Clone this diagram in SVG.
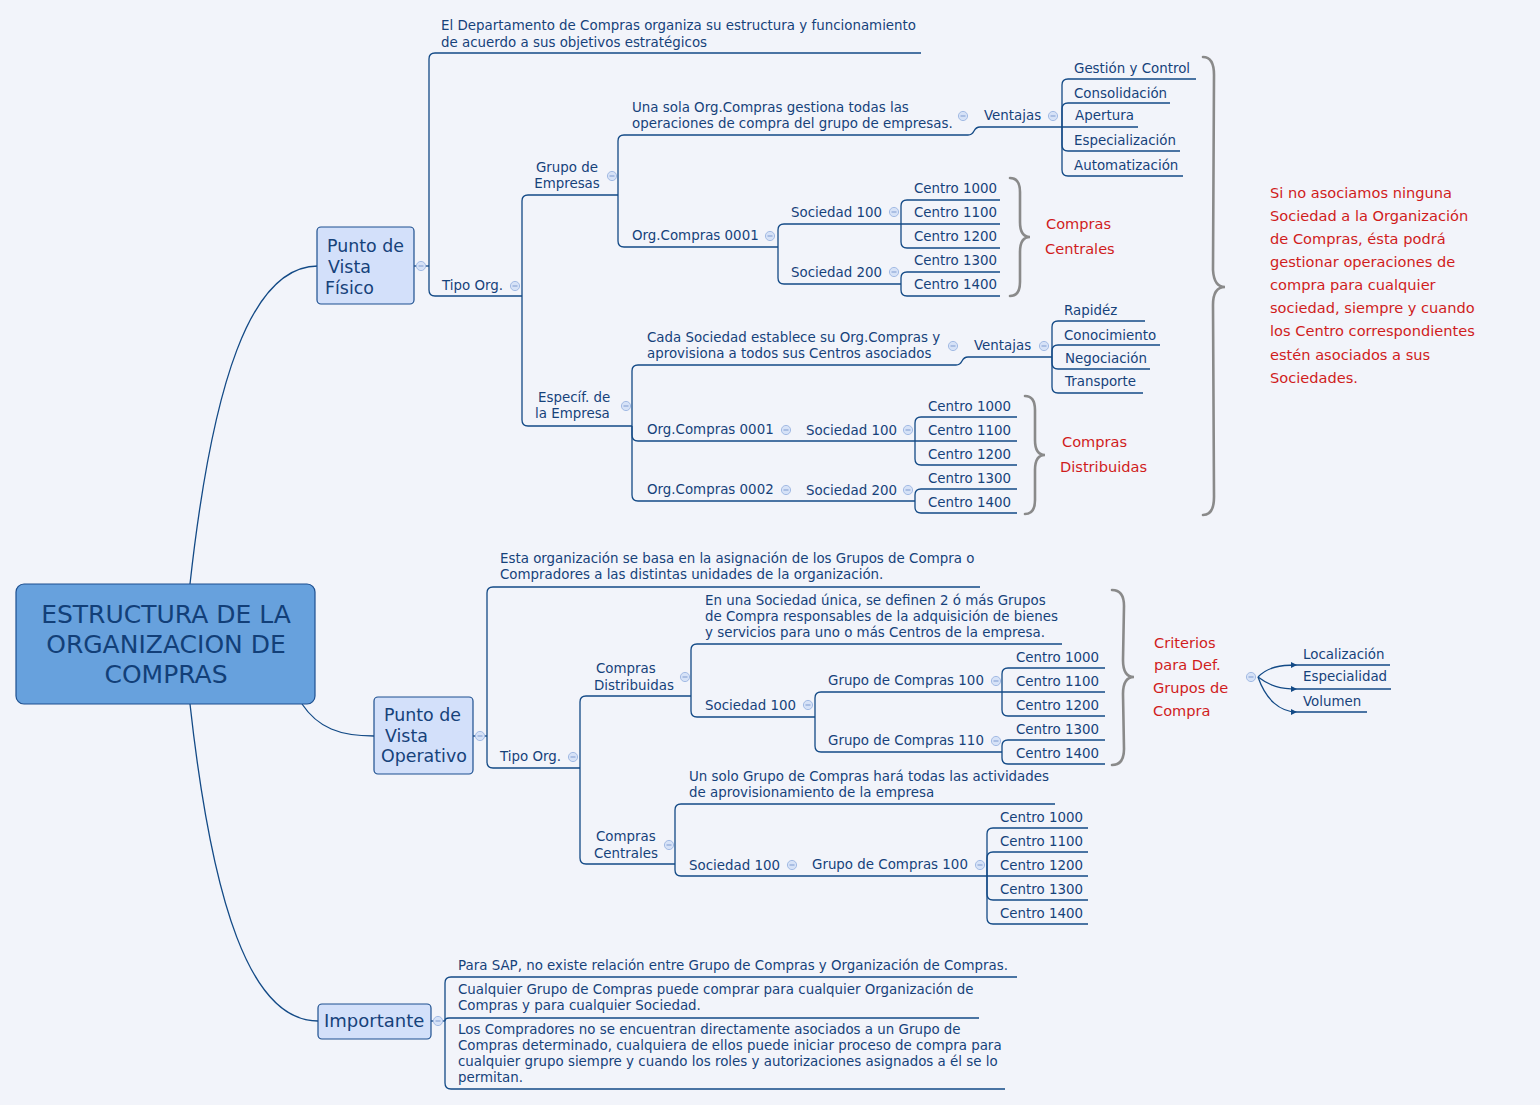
<svg xmlns="http://www.w3.org/2000/svg" width="1540" height="1105" viewBox="0 0 1540 1105">
<style>
.t{font-family:"DejaVu Sans",Verdana,sans-serif;font-size:13.4px;fill:#16427a}
.nt{font-family:"DejaVu Sans",Verdana,sans-serif;font-size:17.4px;fill:#16427a}
.tt{font-family:"DejaVu Sans",Verdana,sans-serif;font-size:25px;fill:#123f78;text-anchor:middle}
.r{font-family:"DejaVu Sans",sans-serif;font-size:14.6px;fill:#d01c1c}
.c path{fill:none;stroke:#134a86;stroke-width:1.3}
.br{fill:none;stroke:#8a8a8a;stroke-width:2.6;stroke-linecap:round}
.box{fill:#d3e0fa;stroke:#1d4f8f;stroke-width:1.2}
</style>
<defs>
<g id="tg"><circle r="4.6" fill="#d6e2f7" stroke="#a3bbe4" stroke-width="1"/><line x1="-2.5" y1="0" x2="2.5" y2="0" stroke="#7f9bd0" stroke-width="1"/></g>
<marker id="ar" viewBox="0 0 6 6" refX="6" refY="3" markerWidth="5" markerHeight="5" orient="auto"><path d="M0,0 L6,3 L0,6 z" fill="#134a86"/></marker>
</defs>
<rect width="1540" height="1105" fill="#f2f4fa"/>

<g id="connectors" class="c">
<path d="M190,584 C212,385 250,266 318,266"/>
<path d="M302,704 C318,728 340,736 374,736"/>
<path d="M190,704 C212,903 250,1021 318,1021"/>
<!-- Fisico -->
<path d="M414,266 H429"/>
<path d="M429,266 V59 Q429,53 435,53 H921"/>
<path d="M429,266 V290 Q429,296 435,296 H522"/>
<path d="M522,296 V201 Q522,195 528,195 H618"/>
<path d="M522,296 V420 Q522,426 528,426 H632"/>
<path d="M618,195 V141 Q618,135 624,135 H968 Q972,135 974,131 Q976,127 980,127 H1062"/>
<path d="M618,195 V241 Q618,247 624,247 H778"/>
<path d="M1062,127 V85 Q1062,79 1068,79 H1196"/>
<path d="M1062,127 V109 Q1062,103 1068,103 H1170"/>
<path d="M1062,127 H1138"/>
<path d="M1062,127 V145 Q1062,151 1068,151 H1180"/>
<path d="M1062,127 V170 Q1062,176 1068,176 H1183"/>
<path d="M778,247 V230 Q778,224 784,224 H901"/>
<path d="M778,247 V278 Q778,284 784,284 H901"/>
<path d="M901,224 V206 Q901,200 907,200 H1000"/>
<path d="M901,224 H1000"/>
<path d="M901,224 V242 Q901,248 907,248 H1000"/>
<path d="M901,284 V278 Q901,272 907,272 H1000"/>
<path d="M901,284 V290 Q901,296 907,296 H1000"/>
<path d="M632,426 V371 Q632,365 638,365 H956 Q960,365 962,361 Q964,357 968,357 H1052"/>
<path d="M632,426 V435 Q632,441 638,441 H915"/>
<path d="M632,426 V495 Q632,501 638,501 H915"/>
<path d="M1052,357 V327 Q1052,321 1058,321 H1145"/>
<path d="M1052,357 V351 Q1052,345 1058,345 H1160"/>
<path d="M1052,357 V363 Q1052,369 1058,369 H1150"/>
<path d="M1052,357 V387 Q1052,393 1058,393 H1143"/>
<path d="M915,441 V423 Q915,417 921,417 H1017"/>
<path d="M915,441 H1017"/>
<path d="M915,441 V459 Q915,465 921,465 H1017"/>
<path d="M915,501 V495 Q915,489 921,489 H1017"/>
<path d="M915,501 V507 Q915,513 921,513 H1017"/>
<!-- Operativo -->
<path d="M473,736 H487"/>
<path d="M487,736 V593 Q487,587 493,587 H980"/>
<path d="M487,736 V762 Q487,768 493,768 H580"/>
<path d="M580,768 V702 Q580,696 586,696 H691"/>
<path d="M580,768 V858 Q580,864 586,864 H675"/>
<path d="M691,696 V650 Q691,644 697,644 H1062"/>
<path d="M691,696 V711 Q691,717 697,717 H815"/>
<path d="M815,717 V698 Q815,692 821,692 H1002"/>
<path d="M815,717 V746 Q815,752 821,752 H1002"/>
<path d="M1002,692 V674 Q1002,668 1008,668 H1105"/>
<path d="M1002,692 H1105"/>
<path d="M1002,692 V710 Q1002,716 1008,716 H1105"/>
<path d="M1002,752 V746 Q1002,740 1008,740 H1105"/>
<path d="M1002,752 V758 Q1002,764 1008,764 H1105"/>
<path d="M675,864 V810 Q675,804 681,804 H1055"/>
<path d="M675,864 V870 Q675,876 681,876 H987"/>
<path d="M987,876 V834 Q987,828 993,828 H1088"/>
<path d="M987,876 V858 Q987,852 993,852 H1088"/>
<path d="M987,876 H1088"/>
<path d="M987,876 V894 Q987,900 993,900 H1088"/>
<path d="M987,876 V918 Q987,924 993,924 H1088"/>
<path d="M1258,677 C1268,667 1280,665 1297,665" marker-end="url(#ar)"/>
<path d="M1258,677 C1270,686 1280,689 1297,689" marker-end="url(#ar)"/>
<path d="M1258,677 C1266,700 1280,712 1297,712" marker-end="url(#ar)"/>
<path d="M1297,665 H1390"/>
<path d="M1297,689 H1391"/>
<path d="M1297,712 H1367"/>
<!-- Importante -->
<path d="M431,1021 H445"/>
<path d="M445,1021 V983 Q445,977 451,977 H1017"/>
<path d="M445,1021 Q445,1018 449,1018 H979"/>
<path d="M445,1021 V1083 Q445,1089 451,1089 H1005"/>
</g>

<g id="braces">
<path class="br" d="M1010,178 Q1020,178 1020,192 L1020,222 Q1020,237 1030,237 Q1020,237 1020,252 L1020,282 Q1020,296 1010,296"/>
<path class="br" d="M1025,396 Q1035,396 1035,410 L1035,440 Q1035,455 1045,455 Q1035,455 1035,470 L1035,500 Q1035,514 1025,514"/>
<path class="br" d="M1203,57 Q1214,57 1214,75 L1213,270 Q1214,287 1225,287 Q1213,287 1213,305 L1214,497 Q1214,515 1203,515"/>
<path class="br" d="M1112,590 Q1124,590 1124,606 L1123,660 Q1123,677 1134,677 Q1123,677 1123,694 L1124,749 Q1124,765 1112,765"/>
</g>

<g id="central">
<rect x="16" y="584" width="299" height="120" rx="8" fill="#67a1dd" stroke="#1d4f8f" stroke-width="1.2"/>
<text class="tt" x="166" y="623">ESTRUCTURA DE LA</text>
<text class="tt" x="166" y="653">ORGANIZACION DE</text>
<text class="tt" x="166" y="683">COMPRAS</text>
</g>

<g id="fisico">
<rect class="box" x="317" y="227" width="97" height="77" rx="4"/>
<text class="nt" x="327" y="252">Punto de</text>
<text class="nt" x="328" y="273">Vista</text>
<text class="nt" x="325" y="294">Físico</text>
</g>
<g id="operativo">
<rect class="box" x="374" y="697" width="99" height="77" rx="4"/>
<text class="nt" x="384" y="721">Punto de</text>
<text class="nt" x="385" y="742">Vista</text>
<text class="nt" x="381" y="762">Operativo</text>
</g>
<g id="importante">
<rect class="box" x="318" y="1004" width="113" height="35" rx="4"/>
<text class="nt" x="324" y="1027" style="font-size:18px">Importante</text>
</g>

<g id="f-depto"><text class="t" x="441" y="30">El Departamento de Compras organiza su estructura y funcionamiento</text><text class="t" x="441" y="47">de acuerdo a sus objetivos estratégicos</text></g>
<g id="f-tipo"><text class="t" x="442" y="290">Tipo Org.</text></g>
<g id="f-grupo"><text class="t" x="567" y="172" text-anchor="middle">Grupo de</text><text class="t" x="567" y="188" text-anchor="middle">Empresas</text></g>
<g id="f-espec"><text class="t" x="538" y="402">Específ. de</text><text class="t" x="535" y="418">la Empresa</text></g>
<g id="f-unasola"><text class="t" x="632" y="112">Una sola Org.Compras gestiona todas las</text><text class="t" x="632" y="128">operaciones de compra del grupo de empresas.</text></g>
<g id="f-vent1"><text class="t" x="984" y="120">Ventajas</text></g>
<g id="f-v1"><text class="t" x="1074" y="73">Gestión y Control</text></g>
<g id="f-v2"><text class="t" x="1074" y="98">Consolidación</text></g>
<g id="f-v3"><text class="t" x="1075" y="120">Apertura</text></g>
<g id="f-v4"><text class="t" x="1074" y="145">Especialización</text></g>
<g id="f-v5"><text class="t" x="1074" y="170">Automatización</text></g>
<g id="f-oc1"><text class="t" x="632" y="240">Org.Compras 0001</text></g>
<g id="f-s100"><text class="t" x="791" y="217">Sociedad 100</text></g>
<g id="f-s200"><text class="t" x="791" y="277">Sociedad 200</text></g>
<g id="f-c1"><text class="t" x="914" y="193">Centro 1000</text></g>
<g id="f-c2"><text class="t" x="914" y="217">Centro 1100</text></g>
<g id="f-c3"><text class="t" x="914" y="241">Centro 1200</text></g>
<g id="f-c4"><text class="t" x="914" y="265">Centro 1300</text></g>
<g id="f-c5"><text class="t" x="914" y="289">Centro 1400</text></g>
<g id="f-cada"><text class="t" x="647" y="342">Cada Sociedad establece su Org.Compras y</text><text class="t" x="647" y="358">aprovisiona a todos sus Centros asociados</text></g>
<g id="f-vent2"><text class="t" x="974" y="350">Ventajas</text></g>
<g id="f-w1"><text class="t" x="1064" y="315">Rapidéz</text></g>
<g id="f-w2"><text class="t" x="1064" y="340">Conocimiento</text></g>
<g id="f-w3"><text class="t" x="1065" y="363">Negociación</text></g>
<g id="f-w4"><text class="t" x="1065" y="386">Transporte</text></g>
<g id="f-oc1b"><text class="t" x="647" y="434">Org.Compras 0001</text></g>
<g id="f-oc2b"><text class="t" x="647" y="494">Org.Compras 0002</text></g>
<g id="f-s100b"><text class="t" x="806" y="435">Sociedad 100</text></g>
<g id="f-s200b"><text class="t" x="806" y="495">Sociedad 200</text></g>
<g id="f-d1"><text class="t" x="928" y="411">Centro 1000</text></g>
<g id="f-d2"><text class="t" x="928" y="435">Centro 1100</text></g>
<g id="f-d3"><text class="t" x="928" y="459">Centro 1200</text></g>
<g id="f-d4"><text class="t" x="928" y="483">Centro 1300</text></g>
<g id="f-d5"><text class="t" x="928" y="507">Centro 1400</text></g>

<g id="o-esta"><text class="t" x="500" y="563">Esta organización se basa en la asignación de los Grupos de Compra o</text><text class="t" x="500" y="579">Compradores a las distintas unidades de la organización.</text></g>
<g id="o-tipo"><text class="t" x="500" y="761">Tipo Org.</text></g>
<g id="o-cd"><text class="t" x="596" y="673">Compras</text><text class="t" x="594" y="690">Distribuidas</text></g>
<g id="o-cc"><text class="t" x="596" y="841">Compras</text><text class="t" x="594" y="858">Centrales</text></g>
<g id="o-enuna"><text class="t" x="705" y="605">En una Sociedad única, se definen 2 ó más Grupos</text><text class="t" x="705" y="621">de Compra responsables de la adquisición de bienes</text><text class="t" x="705" y="637">y servicios para uno o más Centros de la empresa.</text></g>
<g id="o-s100"><text class="t" x="705" y="710">Sociedad 100</text></g>
<g id="o-gc100"><text class="t" x="828" y="685">Grupo de Compras 100</text></g>
<g id="o-gc110"><text class="t" x="828" y="745">Grupo de Compras 110</text></g>
<g id="o-c1"><text class="t" x="1016" y="662">Centro 1000</text></g>
<g id="o-c2"><text class="t" x="1016" y="686">Centro 1100</text></g>
<g id="o-c3"><text class="t" x="1016" y="710">Centro 1200</text></g>
<g id="o-c4"><text class="t" x="1016" y="734">Centro 1300</text></g>
<g id="o-c5"><text class="t" x="1016" y="758">Centro 1400</text></g>
<g id="o-unsolo"><text class="t" x="689" y="781">Un solo Grupo de Compras hará todas las actividades</text><text class="t" x="689" y="797">de aprovisionamiento de la empresa</text></g>
<g id="o-s100c"><text class="t" x="689" y="870">Sociedad 100</text></g>
<g id="o-gc100c"><text class="t" x="812" y="869">Grupo de Compras 100</text></g>
<g id="o-e1"><text class="t" x="1000" y="822">Centro 1000</text></g>
<g id="o-e2"><text class="t" x="1000" y="846">Centro 1100</text></g>
<g id="o-e3"><text class="t" x="1000" y="870">Centro 1200</text></g>
<g id="o-e4"><text class="t" x="1000" y="894">Centro 1300</text></g>
<g id="o-e5"><text class="t" x="1000" y="918">Centro 1400</text></g>
<g id="o-loc"><text class="t" x="1303" y="659">Localización</text></g>
<g id="o-esp"><text class="t" x="1303" y="681">Especialidad</text></g>
<g id="o-vol"><text class="t" x="1303" y="706">Volumen</text></g>

<g id="i-1"><text class="t" x="458" y="970">Para SAP, no existe relación entre Grupo de Compras y Organización de Compras.</text></g>
<g id="i-2"><text class="t" x="458" y="994">Cualquier Grupo de Compras puede comprar para cualquier Organización de</text><text class="t" x="458" y="1010">Compras y para cualquier Sociedad.</text></g>
<g id="i-3"><text class="t" x="458" y="1034">Los Compradores no se encuentran directamente asociados a un Grupo de</text><text class="t" x="458" y="1050">Compras determinado, cualquiera de ellos puede iniciar proceso de compra para</text><text class="t" x="458" y="1066">cualquier grupo siempre y cuando los roles y autorizaciones asignados a él se lo</text><text class="t" x="458" y="1082">permitan.</text></g>

<g id="note-centrales"><text class="r" x="1046" y="229">Compras</text><text class="r" x="1045" y="254">Centrales</text></g>
<g id="note-distribuidas"><text class="r" x="1062" y="447">Compras</text><text class="r" x="1060" y="472">Distribuidas</text></g>
<g id="note-criterios"><text class="r" x="1154" y="648">Criterios</text><text class="r" x="1154" y="670">para Def.</text><text class="r" x="1153" y="693">Grupos de</text><text class="r" x="1153" y="716">Compra</text></g>
<g id="note-si"><text class="r" x="1270" y="198">Si no asociamos ninguna</text><text class="r" x="1270" y="221">Sociedad a la Organización</text><text class="r" x="1270" y="244">de Compras, ésta podrá</text><text class="r" x="1270" y="267">gestionar operaciones de</text><text class="r" x="1270" y="290">compra para cualquier</text><text class="r" x="1270" y="313">sociedad, siempre y cuando</text><text class="r" x="1270" y="336">los Centro correspondientes</text><text class="r" x="1270" y="360">estén asociados a sus</text><text class="r" x="1270" y="383">Sociedades.</text></g>

<g id="toggles">
<use href="#tg" x="421" y="266"/><use href="#tg" x="515" y="286"/><use href="#tg" x="612" y="176"/><use href="#tg" x="963" y="116"/><use href="#tg" x="1053" y="116"/><use href="#tg" x="770" y="236"/><use href="#tg" x="894" y="212"/><use href="#tg" x="894" y="272"/><use href="#tg" x="626" y="406"/><use href="#tg" x="953" y="346"/><use href="#tg" x="1044" y="346"/><use href="#tg" x="786" y="430"/><use href="#tg" x="908" y="430"/><use href="#tg" x="786" y="490"/><use href="#tg" x="908" y="490"/><use href="#tg" x="480" y="736"/><use href="#tg" x="573" y="757"/><use href="#tg" x="685" y="677"/><use href="#tg" x="808" y="705"/><use href="#tg" x="996" y="681"/><use href="#tg" x="996" y="741"/><use href="#tg" x="669" y="845"/><use href="#tg" x="792" y="865"/><use href="#tg" x="980" y="865"/><use href="#tg" x="438" y="1021"/><use href="#tg" x="1251" y="677"/>
</g>
</svg>
